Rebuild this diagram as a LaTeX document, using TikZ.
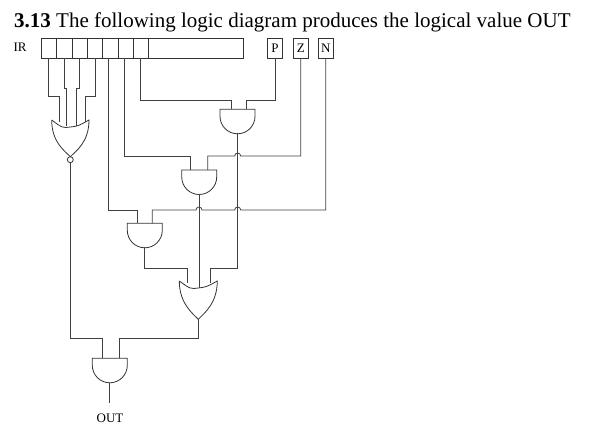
\documentclass[tikz,border=0pt]{standalone}
\usepackage{fontspec}
\setmainfont{Liberation Serif}
\begin{document}
\begin{tikzpicture}[x=1pt,y=-1pt,wire/.style={draw=black!75,line width=0.8pt},gate/.style={draw=black!80,line width=0.8pt}]
\useasboundingbox (0,0) rectangle (605,435);
\newcommand{\andg}[3]{% left, top, width
 \draw[gate] (#1,#2) -- ({#1+#3},#2) -- ({#1+#3},{#2+7}) arc[start angle=0,end angle=-180,x radius={#3/2},y radius=-{#3/2}] -- cycle;}
\newcommand{\org}[4]{% left, top, right, bottom
 \draw[gate] (#1,#2) .. controls ({(#1+#3)/2-8},{#2+8}) .. ({(#1+#3)/2},{#2+7}) .. controls ({(#1+#3)/2+8},{#2+6}) .. (#3,#2)
   .. controls (#3,{#2+22}) and ({(#1+#3)/2+6},{#4-6}) .. ({(#1+#3)/2},#4)
   .. controls ({(#1+#3)/2-6},{#4-6}) and (#1,{#2+22}) .. (#1,#2);}
\node[anchor=base west,font=\fontsize{21}{24}\selectfont,inner sep=0] (title) at (14,28) {\textbf{3.13} The following logic diagram produces the logical value OUT};
\node[font=\fontsize{13}{15}\selectfont] (ir) at (20,47) {IR};
% register
\draw[gate] (41,38) rectangle (243,58);
\foreach \x in {56,72,87,102,118,133,148} \draw[gate] (\x,38) -- (\x,58);
\tikzset{flag/.style={draw=black!80,line width=0.8pt,minimum width=15pt,minimum height=20pt,inner sep=0,font=\fontsize{13}{15}\selectfont}}
\node[flag] (P) at (275,48) {P};
\node[flag] (Z) at (300.8,48) {Z};
\node[flag] (N) at (325.8,48) {N};
% NOR gate
\org{51.7}{120}{89}{156.7}
\draw[gate] (70.3,159.7) circle (3);
\draw[wire] (48.3,58) |- (59,96.7) -- (59,122.5);
\draw[wire] (64,58) |- (66.7,88.3) -- (66.7,126.5);
\draw[wire] (79,58) |- (76.7,88.3) -- (76.7,126.5);
\draw[wire] (95,58) |- (85,96.7) -- (85,122.5);
% AND1
\andg{220}{109.3}{35}
\draw[wire] (140,58) |- (231,100) -- (231,109.3);
\draw[wire] (P.south) |- (246,100) -- (246,109.3);
% AND2
\andg{181.7}{170}{35}
\draw[wire] (124.3,58) |- (190.7,156) -- (190.7,170);
\draw[wire] (Z.south) |- (240.7,156) arc[start angle=0,end angle=-180,radius=3] -- (207.7,156) -- (207.7,170);
% AND3
\andg{127.3}{223.3}{35}
\draw[wire] (108.3,58) |- (137.7,210) -- (137.7,223.3);
\draw[wire] (N.south) |- (240.7,210) arc[start angle=0,end angle=-180,radius=3] -- (202,210) arc[start angle=0,end angle=-180,radius=3] -- (152.3,210) -- (152.3,223.3);
% OR2
\org{179.3}{281}{217.3}{319.3}
\draw[wire] (237.7,133.3) -- (237.7,268.3) -- (210,268.3) -- (210,283.5);
\draw[wire] (199,194) -- (199,288.3);
\draw[wire] (144.7,247.3) |- (187.7,268.3) -- (187.7,283.5);
% AND4
\andg{92.3}{358.3}{35}
\draw[wire] (70.3,162.7) |- (102.7,338) -- (102.7,358.3);
\draw[wire] (198.3,319.3) |- (119,338) -- (119,358.3);
\draw[wire] (109.8,382.8) -- (109.8,403);
\node[font=\fontsize{13}{15}\selectfont] (out) at (110,418) {OUT};
\end{tikzpicture}
\end{document}
